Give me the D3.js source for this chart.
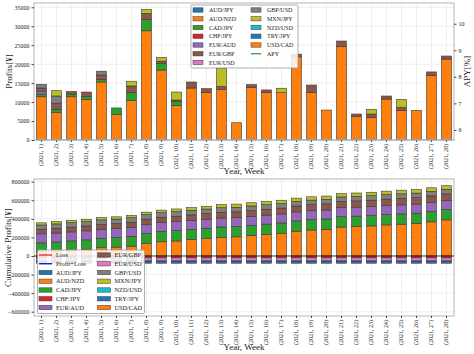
<!DOCTYPE html>
<html>
<head>
<meta charset="utf-8">
<script src="https://cdn.jsdelivr.net/npm/d3@7"></script>
<style>
  body { margin: 0; background: #fff; }
  svg { font-family: "Liberation Serif", "DejaVu Serif", serif; }
</style>
</head>
<body>
<svg id="chart" width="474" height="354"></svg>
<script>
// week labels
const weeks = ["(2021, 1)", "(2021, 2)", "(2021, 3)", "(2021, 4)", "(2021, 5)", "(2021, 6)", "(2021, 7)",
  "(2021, 8)", "(2021, 9)", "(2021, 10)", "(2021, 11)", "(2021, 12)", "(2021, 13)", "(2021, 14)",
  "(2021, 15)", "(2021, 16)", "(2021, 17)", "(2021, 18)", "(2021, 19)", "(2021, 20)", "(2021, 21)",
  "(2021, 22)", "(2021, 23)", "(2021, 24)", "(2021, 25)", "(2021, 26)", "(2021, 27)", "(2021, 28)"];

const pairs = ["AUD/JPY", "AUD/NZD", "CAD/JPY", "CHF/JPY", "EUR/AUD", "EUR/GBP",
  "EUR/USD", "GBP/USD", "MXN/JPY", "NZD/USD", "TRY/JPY", "USD/CAD"];
const pairColors = ["#1f77b4", "#ff7f0e", "#2ca02c", "#d62728", "#9467bd", "#8c564b",
  "#e377c2", "#7f7f7f", "#bcbd22", "#17becf", "#1f77b4", "#ff7f0e"];

// weekly profits (top chart)
const audNzdWeekly = [11400, 7200, 11400, 10700, 15300, 6700, 10400, 28800, 18450, 9050, 13700, 12500, 13350, 4550,
  13900, 12500, 12500, 21950, 12500, 7900, 24600, 6150, 6000, 10800, 7750, 7800, 17050, 21350];
const cadJpyWeekly = [700, 900, 700, 800, 700, 1750, 2100, 3000, 1750, 1050, 0, 0, 0, 0,
  0, 0, 0, 0, 0, 0, 0, 0, 0, 0, 0, 0, 0, 0];
const eurAudWeekly = [700, 0, 0, 0, 0, 0, 0, 0, 0, 0, 0, 0, 0, 0,
  0, 0, 0, 0, 0, 0, 0, 0, 0, 0, 0, 0, 0, 0];
const eurGbpWeekly = [900, 1600, 700, 1150, 1150, 0, 1750, 1600, 600, 450, 1600, 1050, 800, 0,
  700, 700, 0, 700, 2000, 0, 1500, 700, 850, 800, 850, 0, 900, 800];
const gbpUsdWeekly = [1000, 1900, 0, 0, 1000, 0, 0, 0, 0, 0, 0, 0, 0, 0,
  0, 0, 0, 0, 0, 0, 0, 0, 0, 0, 0, 0, 0, 0];
const mxnJpyWeekly = [0, 1400, 0, 0, 0, 0, 1250, 1050, 1000, 2100, 0, 0, 4800, 0,
  0, 0, 1150, 0, 0, 0, 0, 0, 1250, 0, 2100, 0, 0, 0];

// cumulative profits (bottom chart)
const audNzdCum = [44000, 51200, 62600, 73300, 88600, 95300, 105700, 134500, 152950, 162000, 175700, 188200, 201550, 206100,
  220000, 232500, 245000, 266950, 279450, 287350, 311950, 318100, 324100, 334900, 342650, 350450, 367500, 388850];
const cadJpyCum = [98000, 98900, 99600, 100400, 101100, 102850, 104950, 107950, 109700, 110750, 110750, 110750, 110750, 110750,
  110750, 110750, 110750, 110750, 110750, 110750, 110750, 110750, 110750, 110750, 110750, 110750, 110750, 110750];
const eurAudCum = [97000, 97000, 97000, 97000, 97000, 97000, 97000, 97000, 97000, 97000, 97000, 97000, 97000, 97000,
  97000, 97000, 97000, 97000, 97000, 97000, 97000, 97000, 97000, 97000, 97000, 97000, 97000, 97000];
const eurGbpCum = [49000, 50600, 51300, 52450, 53600, 53600, 55350, 56950, 57550, 58000, 59600, 60650, 61450, 61450,
  62150, 62850, 62850, 63550, 65550, 65550, 67050, 67750, 68600, 69400, 70250, 70250, 71150, 71950];
const gbpUsdCum = [46000, 47900, 47900, 47900, 48900, 48900, 48900, 48900, 48900, 48900, 48900, 48900, 48900, 48900,
  48900, 48900, 48900, 48900, 48900, 48900, 48900, 48900, 48900, 48900, 48900, 48900, 48900, 48900];
const mxnJpyCum = [23000, 24400, 24400, 24400, 24400, 24400, 25650, 26700, 27700, 29800, 29800, 29800, 34600, 34600,
  34600, 34600, 35750, 35750, 35750, 35750, 35750, 35750, 37000, 37000, 39100, 39100, 39100, 39100];
const chfJpyCum = [-20000, -20000, -20000, -20000, -20000, -20000, -20000, -20000, -20000, -20000, -20000, -20000, -20000, -20000,
  -20000, -20000, -20000, -20000, -20000, -20000, -20000, -20000, -20000, -20000, -20000, -20000, -20000, -20000];
const eurUsdCum = [-33000, -33000, -33000, -33000, -33000, -33000, -33000, -33000, -33000, -33000, -33000, -33000, -33000, -33000,
  -33000, -33000, -33000, -33000, -33000, -33000, -33000, -33000, -33000, -33000, -33000, -33000, -33000, -33000];
const nzdUsdCum = [-5000, -5000, -5000, -5000, -5000, -5000, -5000, -5000, -5000, -5000, -5000, -5000, -5000, -5000,
  -5000, -5000, -5000, -5000, -5000, -5000, -5000, -5000, -5000, -5000, -5000, -5000, -5000, -5000];
const tryJpyCum = [-20000, -20000, -20000, -20000, -20000, -20000, -20000, -20000, -20000, -20000, -20000, -20000, -20000, -20000,
  -20000, -20000, -20000, -20000, -20000, -20000, -20000, -20000, -20000, -20000, -20000, -20000, -20000, -20000];

const weeklyTicks = [0, 5000, 10000, 15000, 20000, 25000, 30000, 35000];
const apyTicks = [6, 7, 8, 9, 10];
const cumTicks = [-600000, -400000, -200000, 0, 200000, 400000, 600000, 800000];

const weeklyByPair = { "AUD/NZD": audNzdWeekly, "CAD/JPY": cadJpyWeekly, "EUR/AUD": eurAudWeekly,
  "EUR/GBP": eurGbpWeekly, "GBP/USD": gbpUsdWeekly, "MXN/JPY": mxnJpyWeekly };
const cumByPair = { "AUD/NZD": audNzdCum, "CAD/JPY": cadJpyCum, "CHF/JPY": chfJpyCum, "EUR/AUD": eurAudCum,
  "EUR/GBP": eurGbpCum, "EUR/USD": eurUsdCum, "GBP/USD": gbpUsdCum, "MXN/JPY": mxnJpyCum,
  "NZD/USD": nzdUsdCum, "TRY/JPY": tryJpyCum };

function table(byPair) {
  return weeks.map((w, i) => {
    var row = { week: w };
    pairs.forEach(p => { row[p] = byPair[p] ? byPair[p][i] : 0; });
    return row;
  });
}

const svg = d3.select("#chart");
const color = d3.scaleOrdinal().domain(pairs).range(pairColors);
const left = 34, right = 454;
const fs = 6;
const titleFs = 9;

var x = d3.scaleBand().domain(weeks).range([left, right]).paddingInner(0.33).paddingOuter(0.165);

function drawPanel(rows, y, ticks, top, bottom) {
  var g = svg.append("g");
  // grid
  g.selectAll(".vg").data(weeks).enter().append("line")
    .attr("x1", d => x(d) + x.bandwidth() / 2).attr("x2", d => x(d) + x.bandwidth() / 2)
    .attr("y1", top).attr("y2", bottom).attr("stroke", "#ebebeb").attr("stroke-width", 0.8);
  g.selectAll(".hg").data(ticks).enter().append("line")
    .attr("x1", left).attr("x2", right).attr("y1", d => y(d)).attr("y2", d => y(d))
    .attr("stroke", "#ebebeb").attr("stroke-width", 0.8);

  var series = d3.stack().keys(pairs).offset(d3.stackOffsetDiverging)(rows);
  g.selectAll(".layer").data(series).enter().append("g")
    .attr("fill", d => color(d.key))
    .selectAll("rect").data(d => d.filter(s => s[1] - s[0] !== 0)).enter().append("rect")
    .attr("x", d => x(d.data.week))
    .attr("width", x.bandwidth())
    .attr("y", d => y(Math.max(d[0], d[1])))
    .attr("height", d => Math.abs(y(d[0]) - y(d[1])))
    .attr("stroke", "#3a3a3a").attr("stroke-width", 0.6);

  // frame
  g.append("rect").attr("x", left).attr("y", top).attr("width", right - left).attr("height", bottom - top)
    .attr("fill", "none").attr("stroke", "#b5b5b5").attr("stroke-width", 1);

  var ya = g.append("g").attr("transform", `translate(${left},0)`)
    .call(d3.axisLeft(y).tickValues(ticks).tickSize(2.5).tickPadding(2).tickFormat(d3.format("d")));
  ya.select(".domain").remove();
  ya.selectAll("text").attr("font-size", fs).attr("fill", "#222").attr("font-family", "Liberation Serif");
  ya.selectAll("line").attr("stroke", "#444");

  var xa = g.append("g").attr("transform", `translate(0,${bottom})`)
    .call(d3.axisBottom(x).tickSize(2).tickPadding(2));
  xa.select(".domain").remove();
  xa.selectAll("line").attr("stroke", "#444");
  xa.selectAll("text").attr("font-size", fs).attr("fill", "#222").attr("font-family", "Liberation Serif")
    .attr("transform", "rotate(-90)").attr("text-anchor", "end").attr("dx", -4).attr("dy", -3)
    .attr("x", 0).attr("y", 0);
  xa.selectAll(".tick text").attr("dy", "0.32em");
  return g;
}

// ---------- top panel ----------
const top1 = 3, bot1 = 140;
var y1 = d3.scaleLinear().domain([0, 36130]).range([bot1, top1]);
var g1 = drawPanel(table(weeklyByPair), y1, weeklyTicks, top1, bot1);

// bottom spine drawn in pale blue
g1.append("line").attr("x1", left).attr("x2", right).attr("y1", bot1).attr("y2", bot1)
  .attr("stroke", "#8fb4d8").attr("stroke-width", 1);

// right APY axis
var yApy = d3.scaleLinear().domain([5.62, 10.78]).range([bot1, top1]);
var ra = g1.append("g").attr("transform", `translate(${right},0)`)
  .call(d3.axisRight(yApy).tickValues(apyTicks).tickSize(2.5).tickPadding(2).tickFormat(d3.format("d")));
ra.select(".domain").remove();
ra.selectAll("text").attr("font-size", fs).attr("fill", "#222").attr("font-family", "Liberation Serif");
ra.selectAll("line").attr("stroke", "#444");

svg.append("text").attr("transform", `translate(12,${(top1 + bot1) / 2}) rotate(-90)`)
  .attr("text-anchor", "middle").attr("font-size", titleFs).attr("fill", "#222").text("Profits[¥]");
svg.append("text").attr("transform", `translate(470,${(top1 + bot1) / 2}) rotate(-90)`)
  .attr("text-anchor", "middle").attr("font-size", titleFs).attr("fill", "#222").text("APY[%]");
svg.append("text").attr("x", (left + right) / 2).attr("y", 174)
  .attr("text-anchor", "middle").attr("font-size", titleFs).attr("fill", "#222").text("Year, Week");

// top legend
var leg1 = svg.append("g");
leg1.append("rect").attr("x", 191).attr("y", 5).attr("width", 107).attr("height", 63).attr("rx", 1.5)
  .attr("fill", "#fff").attr("fill-opacity", 0.85).attr("stroke", "#9a9a9a").attr("stroke-width", 0.8);
var legItems1 = pairs.map(p => ({ label: p, type: "box", color: color(p) }))
  .concat([{ label: "APY", type: "line", color: "#2ca02c" }]);
legItems1.forEach((d, i) => {
  var col = i < 7 ? 0 : 1, row = i < 7 ? i : i - 7;
  var lx = 193 + col * 58, ly = 10 + row * 8.75;
  if (d.type === "box") {
    leg1.append("rect").attr("x", lx).attr("y", ly - 2.2).attr("width", 10).attr("height", 4.4)
      .attr("fill", d.color).attr("stroke", "#3a3a3a").attr("stroke-width", 0.5);
  } else {
    leg1.append("line").attr("x1", lx).attr("x2", lx + 10).attr("y1", ly).attr("y2", ly)
      .attr("stroke", d.color).attr("stroke-width", 1.3);
  }
  leg1.append("text").attr("x", lx + 16).attr("y", ly).attr("dy", "0.35em")
    .attr("font-size", fs).attr("fill", "#222").text(d.label);
});

// ---------- bottom panel ----------
const top2 = 179, bot2 = 316;
var y2 = d3.scaleLinear().domain([-646000, 829000]).range([bot2, top2]);
var g2 = drawPanel(table(cumByPair), y2, cumTicks, top2, bot2);
g2.append("line").attr("x1", left).attr("x2", right).attr("y1", y2(0)).attr("y2", y2(0))
  .attr("stroke", "#222").attr("stroke-width", 0.9);

svg.append("text").attr("transform", `translate(11,${(top2 + bot2) / 2}) rotate(-90)`)
  .attr("text-anchor", "middle").attr("font-size", titleFs).attr("fill", "#222").text("Cumulative Profits[¥]");
svg.append("text").attr("x", (left + right) / 2).attr("y", 350)
  .attr("text-anchor", "middle").attr("font-size", titleFs).attr("fill", "#222").text("Year, Week");

// bottom legend
var leg2 = svg.append("g");
leg2.append("rect").attr("x", 37.5).attr("y", 250).attr("width", 107).attr("height", 63.5).attr("rx", 1.5)
  .attr("fill", "#fff").attr("fill-opacity", 0.85).attr("stroke", "#9a9a9a").attr("stroke-width", 0.8);
var legItems2 = [{ label: "Loss", type: "line", color: "#ff1a1a" },
  { label: "Profit+Loss", type: "line", color: "#0000cc" }]
  .concat(pairs.map(p => ({ label: p, type: "box", color: color(p) })));
legItems2.forEach((d, i) => {
  var col = i < 7 ? 0 : 1, row = i < 7 ? i : i - 7;
  var lx = 39 + col * 58.5, ly = 255 + row * 8.75;
  if (d.type === "box") {
    leg2.append("rect").attr("x", lx).attr("y", ly - 2.2).attr("width", 13).attr("height", 4.4)
      .attr("fill", d.color).attr("stroke", "#3a3a3a").attr("stroke-width", 0.5);
  } else {
    leg2.append("line").attr("x1", lx).attr("x2", lx + 13).attr("y1", ly).attr("y2", ly)
      .attr("stroke", d.color).attr("stroke-width", 1.3);
  }
  leg2.append("text").attr("x", lx + 17).attr("y", ly).attr("dy", "0.35em")
    .attr("font-size", 6.3).attr("fill", "#222").text(d.label);
});
</script>
</body>
</html>
